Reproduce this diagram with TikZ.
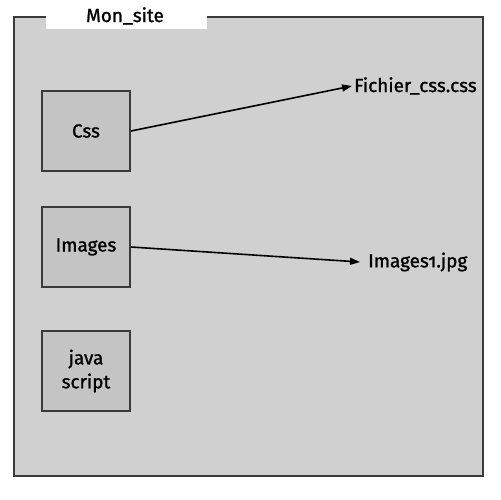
\documentclass[tikz,border=0pt]{standalone}
\usepackage{fontspec}
\setmainfont{Fira Sans}[Numbers=OldStyle, BoldFont={Fira Sans}, BoldFeatures={FakeBold=1.2}]
\usetikzlibrary{positioning, arrows.meta}

\definecolor{sitefill}{HTML}{D0D0D0}
\definecolor{dirfill}{HTML}{C4C4C4}
\definecolor{edgegray}{HTML}{3A3A3A}

\begin{document}
\begin{tikzpicture}[x=1bp, y=-1bp, node distance = 34bp,
    dir/.style={draw=edgegray, fill=dirfill, line width=2bp, minimum width=88bp,
        minimum height=80bp, inner sep=0pt, align=center, font=\fontsize{19}{24}\selectfont\bfseries},
    file/.style={anchor=west, inner sep=2bp, font=\fontsize{19}{24}\selectfont\bfseries},
    link/.style={line width=1.6bp, -{Triangle[length=10bp, width=7bp]}}]
        \useasboundingbox (0,0) rectangle (500,500);
        % dossier principal
        \draw[draw=edgegray, fill=sitefill, line width=2.2bp] (14,17) rectangle (483,476);
        \fill[white] (46,12) rectangle (207,29);
        \node[font=\fontsize{19}{24}\selectfont\bfseries] (titre) at (125,16) {Mon\_site};

        % sous-dossiers
        \node[dir] (css) at (86,131) {Css};
        \node[dir, below=34bp of css] (img) {Images};
        \node[dir, below=42bp of img] (js) {java\\script};

        % fichiers
        \node[file] (fcss) at (352,86) {Fichier\_css.css};
        \node[file, inner xsep=8bp] (fimg) at (360,262) {Images1.jpg};

        \draw[link] (css.east) -- (fcss.west);
        \draw[link] (img.east) -- (fimg.west);
      \end{tikzpicture}
\end{document}
